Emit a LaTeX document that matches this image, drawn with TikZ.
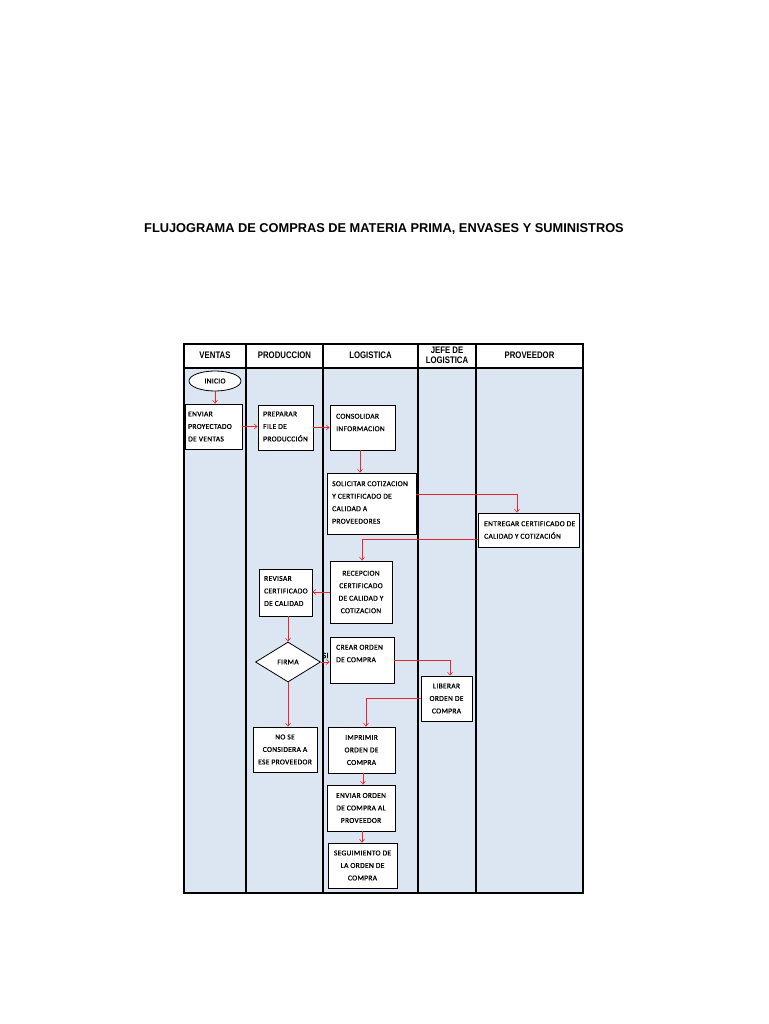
\documentclass[tikz,border=0pt]{standalone}
\usepackage{fontspec}
\setmainfont{Liberation Sans}
\newfontfamily\hdrfont[FakeStretch=0.82]{Liberation Sans}
\newfontfamily\boxfont[LetterSpace=4,FakeBold=0.8]{Carlito}
\usetikzlibrary{arrows.meta,shapes.geometric}
\definecolor{lane}{HTML}{DCE6F2}
\definecolor{flow}{HTML}{E8262C}
\begin{document}
\begin{tikzpicture}[x=1pt,y=-1pt,
  box/.style={draw=black,line width=0.8pt,fill=white,inner sep=0pt,align=center,
    font=\boxfont\fontsize{7.5}{12.5}\selectfont},
  lab/.style={inner sep=0pt,align=left,anchor=west,font=\boxfont\fontsize{7.5}{12.5}\selectfont},
  hdr/.style={inner sep=0pt,align=center,font=\hdrfont\bfseries\fontsize{9.5}{10}\selectfont},
  flowline/.style={draw=flow,line width=0.6pt,-{Straight Barb[length=3pt,width=5pt]}},
]
\useasboundingbox (0,0) rectangle (768,1024);
\fill[white] (0,0) rectangle (768,1024);

% title
\node[inner sep=0pt,font=\bfseries\fontsize{12.8}{14}\selectfont] (title) at (384,229)
  {FLUJOGRAMA DE COMPRAS DE MATERIA PRIMA, ENVASES Y SUMINISTROS};

% table
\fill[lane] (184,368) rectangle (583,893);
\draw[line width=1.1pt] (184,344) rectangle (583,893);
\draw[line width=1.1pt] (184,368) -- (583,368);
\foreach \x in {246,323,418,476} \draw[line width=1.1pt] (\x,344) -- (\x,893);

\node[hdr] (h1) at (215,355) {VENTAS};
\node[hdr] (h2) at (284.5,355) {PRODUCCION};
\node[hdr] (h3) at (370.5,355) {LOGISTICA};
\node[hdr] (h4) at (447,355) {JEFE DE\\LOGISTICA};
\node[hdr] (h5) at (529.5,355) {PROVEEDOR};

% nodes
\node[box,ellipse,minimum width=52pt,minimum height=20pt] (ini) at (215,381) {INICIO};

\node[box,minimum width=57pt,minimum height=45pt] (envv) at (213.5,426.5) {};
\node[lab] at (188,426.5) {ENVIAR\\PROYECTADO\\DE VENTAS};

\node[box,minimum width=55pt,minimum height=45pt] (prep) at (285.5,427.5) {};
\node[lab] at (263,426.5) {PREPARAR\\FILE DE\\PRODUCCIÓN};

\node[box,minimum width=65pt,minimum height=45pt] (cons) at (362.5,427.5) {};
\node[lab] at (336,422.5) {CONSOLIDAR\\INFORMACION};

\node[box,minimum width=89pt,minimum height=61pt] (sol) at (371.5,503.5) {};
\node[lab] at (332,502.5) {SOLICITAR COTIZACION\\Y CERTIFICADO DE\\CALIDAD A\\PROVEEDORES};

\node[box,minimum width=101pt,minimum height=34pt] (ent) at (528.5,530) {};
\node[lab] at (484,530) {ENTREGAR CERTIFICADO DE\\CALIDAD Y COTIZACIÓN};

\node[box,minimum width=62pt,minimum height=62pt] (rec) at (361,592)
  {RECEPCION\\CERTIFICADO\\DE CALIDAD Y\\COTIZACION};

\node[box,minimum width=53pt,minimum height=47pt] (rev) at (285.5,592.5) {};
\node[lab] at (264,591) {REVISAR\\CERTIFICADO\\DE CALIDAD};

\node[box,diamond,aspect=1.625,minimum width=65pt,minimum height=40pt] (firma) at (288,662) {FIRMA};

\node[box,minimum width=64pt,minimum height=46pt] (crear) at (362,660) {};
\node[lab] at (336,653.5) {CREAR ORDEN\\DE COMPRA};

\node[box,minimum width=51pt,minimum height=45pt] (lib) at (446.5,698.5) {LIBERAR\\ORDEN DE\\COMPRA};

\node[box,minimum width=64pt,minimum height=45pt] (nose) at (285,749.5) {NO SE\\CONSIDERA A\\ESE PROVEEDOR};

\node[box,minimum width=67pt,minimum height=46pt] (imp) at (361.5,750) {IMPRIMIR\\ORDEN DE\\COMPRA};

\node[box,minimum width=68pt,minimum height=46pt] (envo) at (361,808) {ENVIAR ORDEN\\DE COMPRA AL\\PROVEEDOR};

\node[box,minimum width=69pt,minimum height=45pt] (seg) at (362.5,865.5) {SEGUIMIENTO DE\\LA ORDEN DE\\COMPRA};

% connectors
\draw[flowline] (ini.south) -- (ini.south |- envv.north);
\draw[flowline] (envv.east) -- (envv.east -| prep.west);
\draw[flowline] (prep.east) -- (prep.east -| cons.west);
\draw[flowline] ([xshift=-2.5pt]cons.south) -- ([xshift=-2.5pt]cons.south |- sol.north);
\draw[flowline] ([yshift=9.5pt]sol.east) -| ([xshift=-11.5pt]ent.north);
\draw[flowline] ([yshift=-9pt]ent.west) -| ([xshift=1pt]rec.north);
\draw[flowline] (rec.west) -- (rec.west -| rev.east);
\draw[flowline] (firma.north |- rev.south) -- (firma.north);
\draw[flowline] (firma.east) -- (firma.east -| crear.west);
\node[inner sep=0pt,font=\boxfont\fontsize{8}{8}\selectfont] (si) at (325.5,655.5) {SI};
\draw[flowline] (crear.east) -| ([xshift=3.5pt]lib.north);
\draw[flowline] (lib.west) -| ([xshift=4.5pt]imp.north);
\draw[flowline] (firma.south) -- (firma.south |- nose.north);
\draw[flowline] ([xshift=1.5pt]imp.south) -- ([xshift=1.5pt]imp.south |- envo.north);
\draw[flowline] ([xshift=1pt]envo.south) -- ([xshift=1pt]envo.south |- seg.north);
\end{tikzpicture}
\end{document}
